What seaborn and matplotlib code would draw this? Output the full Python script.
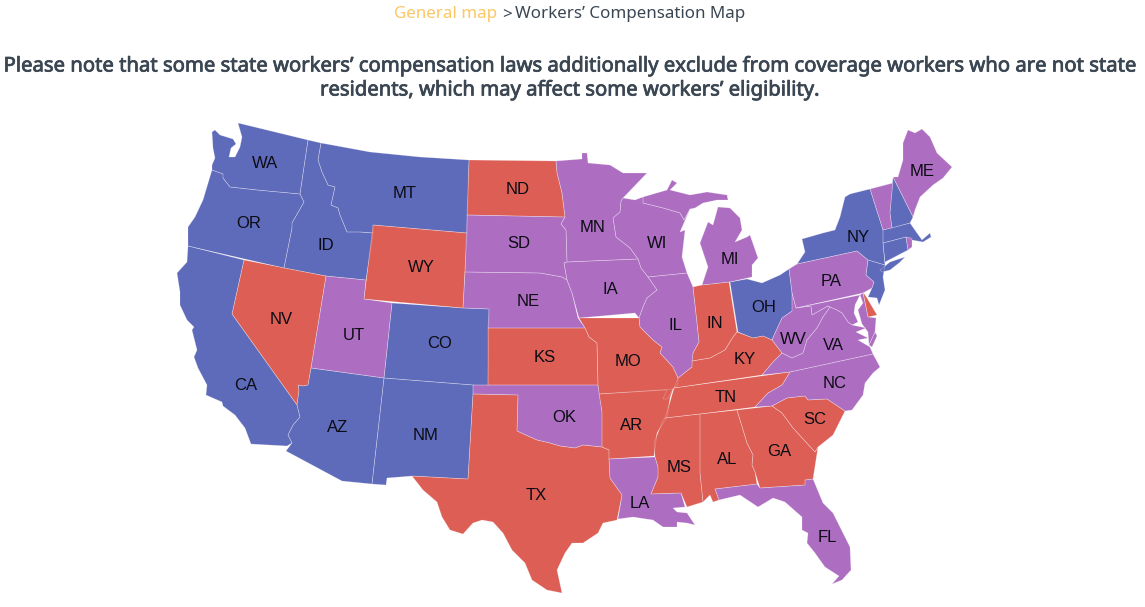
import pandas as pd
import seaborn as sns
import matplotlib.pyplot as plt
import matplotlib.patheffects as pe

# state outlines, in the projected map units of the picture
WA = [(238,123),(308,140),(300,194),(257,190),(230,187),(223,178),(223,174),(212,170),(212,165),(215,158),(213,148),(212,132),(215,130),(220,135),(233,139),(236,144),(231,148),(229,157),(235,157),(240,147),(242,137)]
OR = [(212,170),(223,174),(223,178),(230,187),(257,190),(300,194),(304,202),(292,223),(292,228),(284,268),(188,246),(188,227),(195,217),(203,200)]
CA = [(188,246),(244,260),(232,314),(297,405),(300,417),(293,425),(288,435),(292,443),(287,446),(251,444),(245,428),(235,415),(223,406),(222,402),(206,395),(207,385),(198,368),(194,357),(197,350),(192,330),(194,327),(187,320),(180,305),(180,292),(177,273),(187,262)]
NV = [(244,260),(326,276),(311,368),(308,385),(303,386),(298,385),(299,390),(297,405),(232,314)]
ID = [(308,140),(321,143),(318,160),(322,172),(328,185),(335,187),(331,205),(338,208),(340,215),(347,232),(360,232),(373,233),(366,280),(326,276),(284,268),(292,228),(292,223),(304,202),(300,194)]
MT = [(321,143),(370,152),(420,157),(469,160),(467,233),(373,225),(373,233),(360,232),(347,232),(340,215),(338,208),(331,205),(335,187),(328,185),(322,172),(318,160)]
WY = [(373,225),(467,233),(463,308),(364,299)]
UT = [(326,276),(366,280),(364,299),(392,303),(384,378),(311,368)]
CO = [(392,303),(463,308),(489,309),(488,385),(473,385),(384,378)]
NM = [(384,378),(473,385),(473,394),(468,479),(412,476),(387,478),(386,485),(372,484)]
AZ = [(311,368),(384,378),(372,484),(342,481),(286,451),(292,443),(288,435),(293,425),(300,417),(297,405),(299,390),(298,385),(303,386),(308,385)]
ND = [(469,160),(556,161),(557,173),(562,193),(565,217),(467,215)]
SD = [(467,215),(565,217),(561,224),(566,230),(567,262),(564,263),(567,280),(562,277),(540,273),(465,272)]
NE = [(465,272),(540,273),(562,277),(567,280),(572,293),(578,318),(585,328),(488,328),(489,309),(463,308)]
KS = [(488,328),(585,328),(589,337),(597,343),(598,385),(488,385)]
IA = [(564,263),(567,262),(638,259),(641,268),(648,277),(657,290),(647,298),(643,307),(639,318),(635,313),(579,318),(572,293),(567,280)]
MN = [(556,161),(582,159),(582,153),(587,153),(588,163),(610,165),(623,173),(647,173),(623,198),(621,201),(620,212),(613,218),(616,237),(630,248),(638,259),(567,262),(566,230),(561,224),(565,217),(562,193),(557,173)]
WI = [(621,201),(623,198),(635,200),(643,197),(643,203),(663,208),(680,213),(684,220),(690,209),(680,232),(685,230),(682,257),(687,273),(648,277),(641,268),(638,259),(630,248),(616,237),(613,218),(620,212)]
MI_UPPER = [(643,203),(663,208),(680,213),(684,220),(690,209),(695,208),(703,203),(717,200),(728,200),(727,195),(707,192),(690,195),(670,190),(677,183),(672,180),(667,190),(643,197)]
MI_LOWER = [(702,285),(708,267),(700,243),(708,222),(713,225),(718,207),(730,208),(740,218),(742,230),(735,242),(747,237),(750,235),(758,258),(752,265),(752,277),(730,282)]
IL = [(648,277),(687,273),(693,287),(697,323),(699,342),(693,353),(692,367),(678,378),(673,367),(660,353),(662,347),(653,340),(640,327),(639,318),(643,307),(647,298),(657,290)]
IN = [(693,287),(702,285),(729,282),(737,332),(733,337),(725,350),(710,358),(692,361),(693,353),(699,342),(697,323)]
OH = [(730,282),(747,279),(762,283),(780,275),(789,269),(792,293),(792,311),(782,318),(775,333),(772,340),(763,336),(753,338),(738,332)]
KY = [(737,332),(753,338),(763,336),(772,340),(782,353),(773,362),(762,375),(674,388),(678,378),(692,367),(692,361),(710,358),(725,350),(733,337)]
TN = [(674,388),(790,372),(782,385),(768,393),(755,407),(700,414),(665,418),(670,402)]
VA = [(762,375),(773,362),(782,353),(792,358),(803,353),(807,340),(817,328),(823,317),(830,307),(837,310),(842,313),(848,322),(852,325),(866,328),(856,332),(868,338),(858,340),(870,347),(873,354),(790,372)]
VA_SHORE = [(875,332),(877,336),(872,347),(869,345)]
WV = [(792,293),(796,308),(811,306),(812,315),(828,306),(830,307),(823,317),(817,328),(807,340),(803,353),(792,358),(782,353),(772,340),(775,333),(782,318),(792,311)]
MD_WEST = [(796,308),(860,295),(855,305),(854,313),(858,322),(852,325),(848,322),(842,313),(837,310),(830,307),(828,306),(812,315),(811,306)]
MD_EAST = [(860,295),(863,293),(868,317),(876,318),(875,332),(869,345),(868,332),(862,324),(858,310),(863,303)]
DE = [(863,292),(867,298),(877,315),(868,317)]
PA = [(797,264),(857,251),(868,260),(866,275),(874,282),(872,288),(863,293),(796,308),(792,293),(789,269)]
NY = [(797,264),(805,252),(802,239),(823,233),(835,230),(840,217),(845,197),(850,194),(870,189),(883,230),(883,243),(885,265),(868,260),(857,251)]
LONG_ISLAND = [(880,270),(890,262),(905,257),(899,263),(890,270),(882,272)]
NJ = [(868,260),(885,265),(883,277),(885,290),(879,305),(877,298),(868,297),(872,288),(874,282),(866,275)]
VT = [(870,189),(893,183),(890,213),(892,228),(883,230)]
NH = [(893,177),(913,217),(910,223),(892,228),(890,213)]
ME = [(893,177),(898,177),(903,160),(903,143),(908,130),(915,133),(922,129),(930,137),(937,153),(952,167),(943,178),(933,185),(920,197),(915,210),(913,217)]
MA = [(883,230),(910,223),(917,233),(922,240),(930,233),(931,237),(923,242),(912,240),(906,237),(883,243)]
CT = [(883,243),(906,237),(908,250),(885,262)]
RI = [(906,237),(912,238),(912,247),(908,250)]
NC = [(790,372),(873,354),(880,367),(873,373),(865,383),(863,395),(852,410),(845,411),(827,399),(808,400),(805,396),(787,398),(772,406),(755,407),(768,393),(782,385)]
SC = [(772,406),(787,398),(805,396),(808,400),(827,399),(845,411),(833,435),(818,447),(815,452),(793,428),(782,413)]
GA = [(737,410),(772,406),(782,413),(793,428),(815,452),(818,447),(813,479),(805,480),(805,485),(760,488),(755,472),(752,465),(753,455),(747,443)]
AL = [(700,414),(737,410),(747,443),(753,455),(752,465),(755,472),(757,484),(715,489),(719,500),(713,502),(710,495),(703,502),(700,473)]
MS = [(665,418),(700,414),(700,473),(703,502),(687,507),(681,493),(651,494),(658,477),(658,467),(655,457),(654,443),(663,420)]
AR = [(599,394),(673,389),(670,398),(667,417),(657,433),(654,456),(609,459),(609,450),(602,447),(602,412)]
MO = [(579,318),(639,318),(640,327),(653,340),(662,347),(660,353),(673,367),(678,378),(678,385),(673,389),(667,399),(663,399),(667,390),(599,394),(598,385),(597,343),(589,337),(585,328)]
OK = [(473,385),(598,385),(602,412),(602,447),(583,445),(575,448),(560,446),(550,443),(537,440),(528,436),(517,431),(518,395),(473,394)]
TX = [(473,394),(518,395),(517,431),(528,436),(537,440),(550,443),(560,446),(575,448),(583,445),(602,447),(609,450),(609,459),(610,478),(622,495),(617,520),(603,523),(598,533),(583,543),(572,543),(565,553),(557,570),(562,593),(547,590),(532,580),(525,563),(512,550),(503,533),(493,522),(482,520),(473,523),(463,534),(450,530),(442,517),(437,502),(423,490),(412,476),(468,479)]
LA = [(609,459),(655,457),(658,467),(658,477),(651,494),(681,493),(685,507),(673,508),(677,512),(687,513),(695,525),(687,523),(677,522),(677,527),(663,527),(653,520),(633,517),(618,519),(622,495),(610,478)]
FL = [(715,489),(757,484),(760,488),(805,485),(805,480),(813,479),(823,503),(833,513),(850,547),(851,570),(842,580),(832,584),(839,576),(825,567),(815,553),(807,543),(808,533),(802,530),(802,517),(785,502),(773,498),(758,507),(740,495),(719,500)]

blue_shapes = [WA, OR, CA, ID, MT, CO, NM, AZ, OH, NY, LONG_ISLAND, NJ, NH, MA, CT]
red_shapes = [NV, WY, ND, KS, IN, KY, TN, SC, GA, AL, MS, AR, MO, TX]
purple_shapes = [UT, SD, NE, IA, MN, WI, MI_UPPER, MI_LOWER, IL, VA, VA_SHORE, WV, MD_WEST, MD_EAST, PA, VT, ME, RI, NC, OK, LA, FL]
top_shapes = [DE]

labels = ["WA","OR","MT","ID","WY","ND","SD","NE","MN","WI","MI","IA","IL","IN","OH","PA","NY","ME","NV","UT","CO","CA","AZ","NM","KS","MO","OK","AR","TX","LA","MS","AL","GA","SC","NC","TN","KY","VA","WV","FL"]
label_x = [265,249,405,326,421,518,519,528,593,657,730,610,675,715,764,831,858,922,281,354,440,246,338,426,545,628,564,632,536,640,679,727,779,815,835,726,745,833,793,827]
label_y = [163,223,194,246,268,190,244,302,228,243,259,290,325,323,308,282,237,171,319,335,344,386,427,436,358,362,417,425,496,504,467,460,451,420,384,397,360,345,340,538]

sns.set_theme(style="white")

BLUE = "#5E6ABA"
RED = "#DC5E55"
PURPLE = "#AD6DC1"
DARK = "#3B4653"

fig, ax = plt.subplots(figsize=(11.45, 6.07), dpi=100)
ax.set_position([0, 0, 1, 1])

rows = []
shape_id = 0
for shapes, color in [(blue_shapes, BLUE), (red_shapes, RED), (purple_shapes, PURPLE), (top_shapes, RED)]:
    for pts in shapes:
        ax.fill([p[0] for p in pts], [p[1] for p in pts], color=color, lw=0)
        for p in pts + pts[:1]:
            rows.append({"x": p[0], "y": p[1], "shape": shape_id})
        shape_id += 1

# thin light borders between the states
borders = pd.DataFrame(rows)
sns.lineplot(data=borders, x="x", y="y", units="shape", estimator=None, sort=False,
             color="white", alpha=0.28, lw=0.5, ax=ax, legend=False)

for name, x, y in zip(labels, label_x, label_y):
    ax.text(x, y, name, ha="center", va="center", fontsize=12, color="#0c0c14",
            family="Liberation Sans")

ax.text(394, 14.5, "General map", ha="left", va="center", fontsize=12.2, color="#FCC766", family="Noto Sans")
ax.text(502, 14.5, ">", ha="left", va="center", fontsize=12.2, color=DARK, family="Noto Sans")
ax.text(515, 14.5, "Workers’ Compensation Map", ha="left", va="center", fontsize=12.2, color=DARK, family="Noto Sans")

# no medium weight installed, a thin stroke thickens the regular face
stroke = [pe.withStroke(linewidth=0.55, foreground=DARK)]
ax.text(570, 66.5, "Please note that some state workers’ compensation laws additionally exclude from coverage workers who are not state",
        ha="center", va="center", fontsize=14.6, color=DARK, family="Noto Sans", path_effects=stroke)
ax.text(570, 90.5, "residents, which may affect some workers’ eligibility.",
        ha="center", va="center", fontsize=14.6, color=DARK, family="Noto Sans", path_effects=stroke)

ax.set_xlim(0, 1145)
ax.set_ylim(607, 0)
ax.axis("off")
fig.savefig("out.png", dpi=100, facecolor="white")
